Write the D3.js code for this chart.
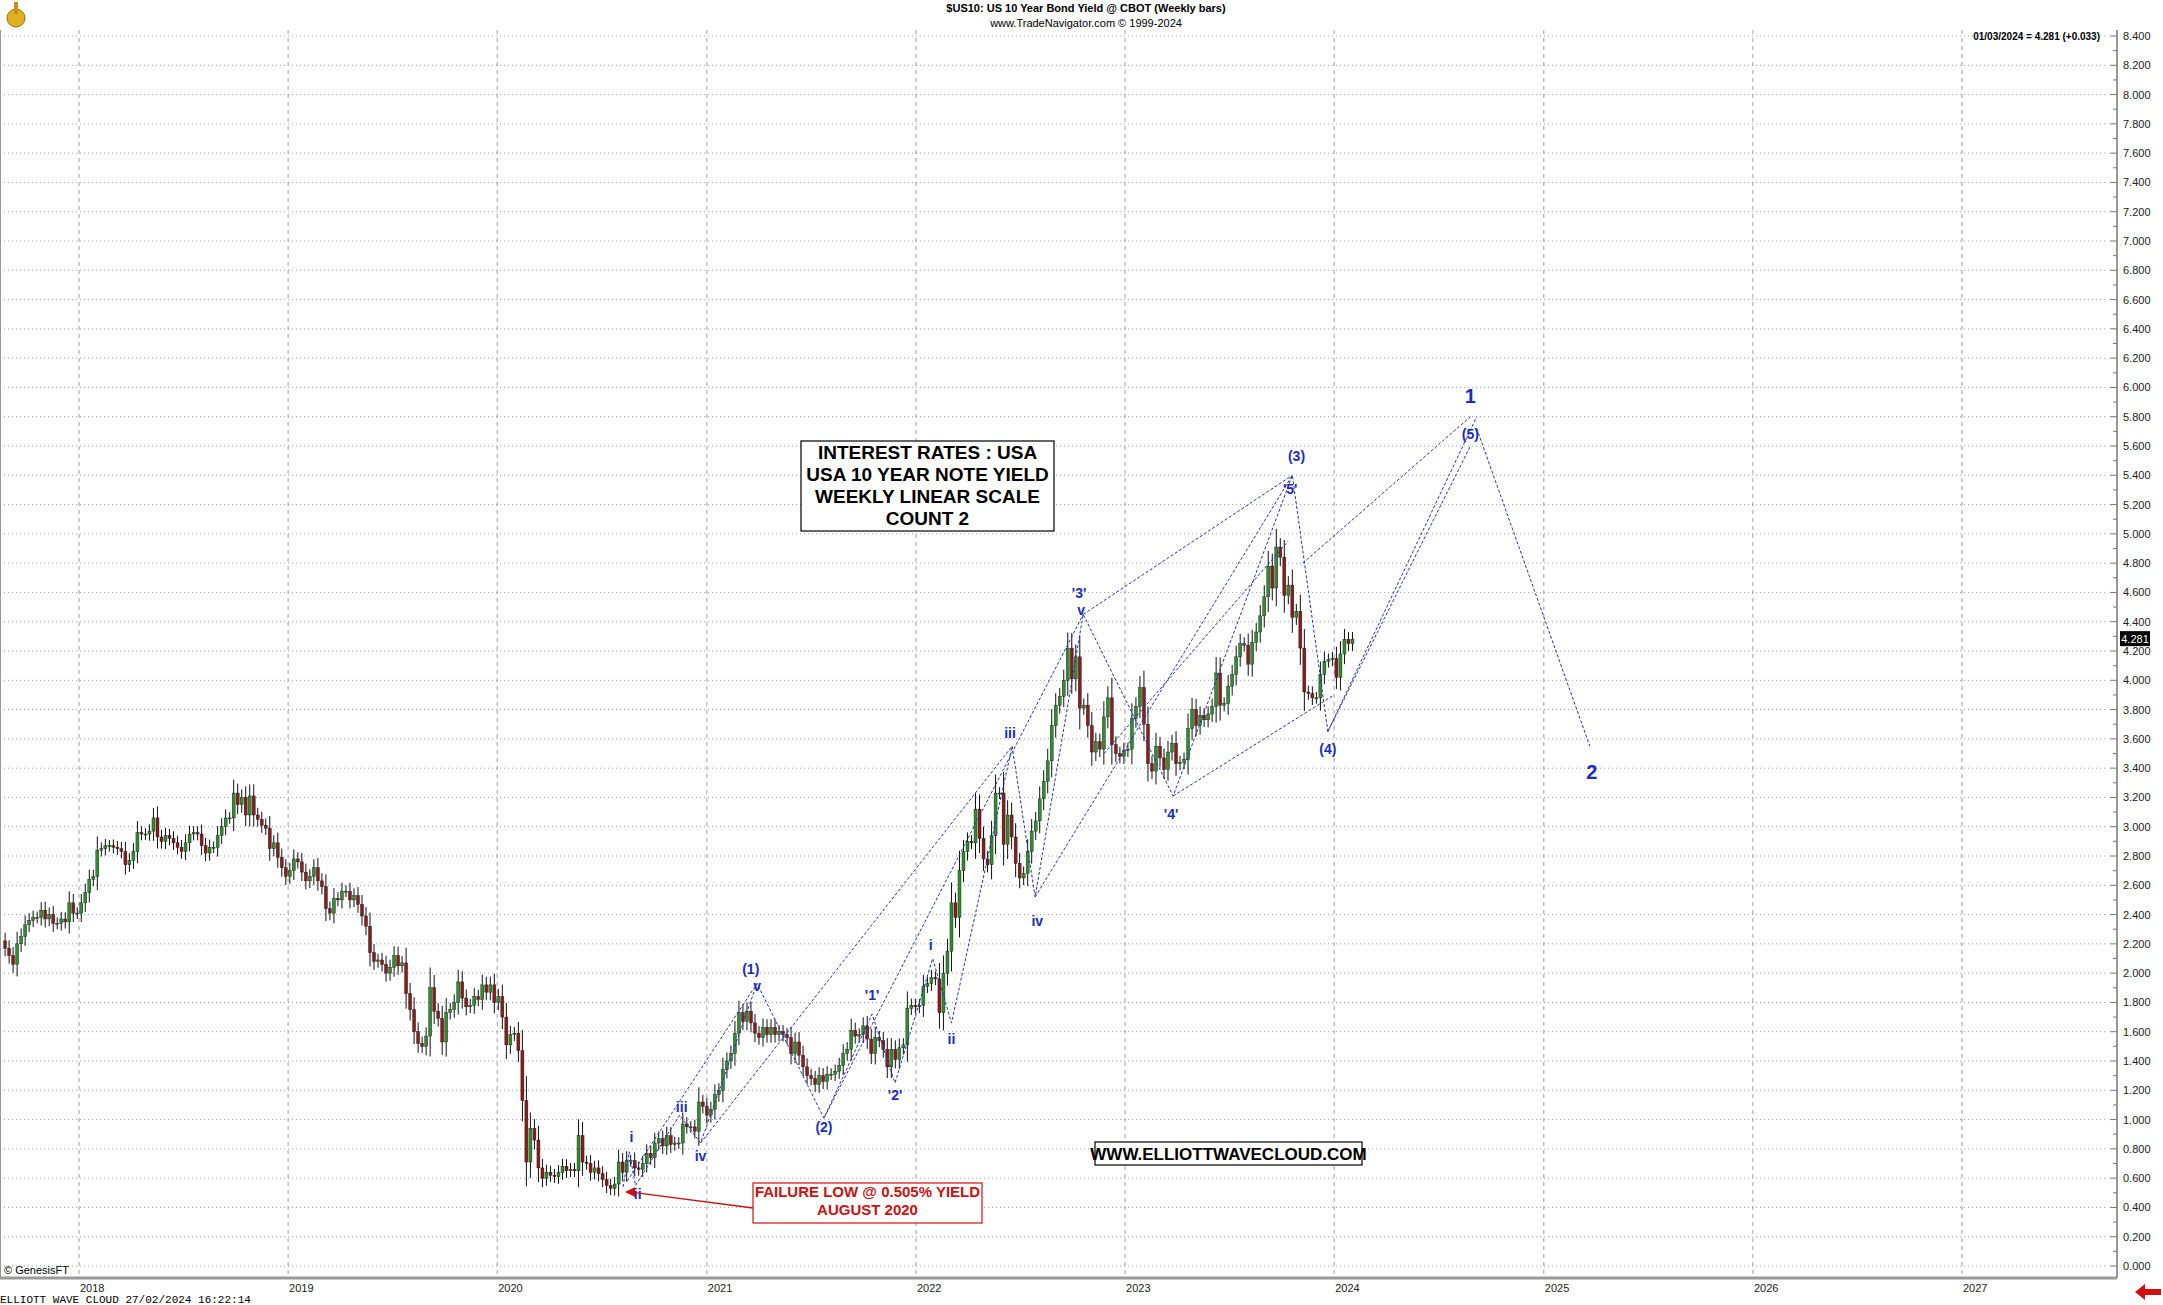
<!DOCTYPE html>
<html>
<head>
<meta charset="utf-8">
<script src="https://cdn.jsdelivr.net/npm/d3@7"></script>
<style>
  body { margin: 0; background: #fff; }
  svg { display: block; font-family: Arial, "Liberation Sans", sans-serif; }
</style>
</head>
<body>
<svg id="chart" width="2163" height="1305"></svg>
<script>
// weekly closes, starting week of 2017-08-25
var startDate = new Date(2017, 7, 25);
var closes = [
  2.17, 2.12,
  2.06, 2.20, 2.25, 2.33, 2.36, 2.38, 2.38, 2.43, 2.37, 2.40, 2.34, 2.34, 2.37, 2.35, 2.48, 2.41, 2.41,
  2.48, 2.55, 2.64, 2.66, 2.84, 2.85, 2.87, 2.87, 2.86, 2.85, 2.83, 2.74, 2.77, 2.83, 2.96, 2.95,
  2.95, 2.97, 3.06, 2.93, 2.90, 2.94, 2.92, 2.89, 2.86, 2.83, 2.89, 2.95, 2.96, 2.95, 2.87, 2.82, 2.86, 2.86,
  2.94, 3.00, 3.06, 3.06, 3.23, 3.15, 3.20, 3.08, 3.21, 3.08, 3.05, 3.01, 2.99, 2.85, 2.89, 2.79, 2.72,
  2.66, 2.70, 2.78, 2.76, 2.69, 2.63, 2.66, 2.72, 2.63, 2.59, 2.44, 2.41, 2.51, 2.50, 2.56, 2.56, 2.50,
  2.53, 2.47, 2.39, 2.32, 2.14, 2.08, 2.09, 2.06, 2.00, 2.04, 2.12, 2.05, 2.07, 1.86, 1.75, 1.60, 1.52, 1.50,
  1.57, 1.90, 1.74, 1.69, 1.53, 1.73, 1.75, 1.80, 1.94, 1.83, 1.77, 1.78, 1.84, 1.82, 1.92, 1.87, 1.92,
  1.80, 1.84, 1.70, 1.51, 1.58, 1.59, 1.47, 1.13, 0.71, 0.94, 0.86, 0.67, 0.60, 0.64, 0.62, 0.61, 0.64,
  0.68, 0.65, 0.66, 0.65, 0.89, 0.71, 0.70, 0.64, 0.67, 0.63, 0.59, 0.55, 0.53, 0.56, 0.71, 0.64, 0.72,
  0.72, 0.67, 0.66, 0.70, 0.77, 0.74, 0.84, 0.87, 0.82, 0.89, 0.83, 0.84, 0.84, 0.97, 0.95, 0.95, 0.92,
  1.12, 1.09, 1.03, 1.07, 1.17, 1.20, 1.34, 1.40, 1.45, 1.59, 1.73, 1.67, 1.74, 1.66, 1.59, 1.56, 1.63, 1.58,
  1.63, 1.58, 1.60, 1.58, 1.56, 1.45, 1.53, 1.44, 1.36, 1.30, 1.28, 1.24, 1.30, 1.26, 1.31, 1.31, 1.33,
  1.37, 1.45, 1.48, 1.61, 1.57, 1.58, 1.64, 1.55, 1.45, 1.56, 1.54, 1.48, 1.36, 1.48, 1.41, 1.49, 1.51,
  1.76, 1.78, 1.77, 1.78, 1.91, 1.93, 1.97, 1.96, 1.73, 2.00, 2.15, 2.48, 2.38, 2.70, 2.83, 2.90, 2.89,
  3.12, 2.92, 2.78, 2.74, 2.94, 3.23, 3.23, 2.88, 3.08, 2.93, 2.75, 2.65, 2.68, 2.83, 2.97, 3.04, 3.19,
  3.31, 3.45, 3.69, 3.83, 3.89, 4.00, 4.22, 4.01, 4.16, 3.81, 3.83, 3.69, 3.51, 3.58, 3.53, 3.75, 3.88,
  3.56, 3.50, 3.48, 3.52, 3.53, 3.74, 3.82, 3.95, 3.70, 3.43, 3.38, 3.55, 3.47, 3.39, 3.51, 3.57, 3.43,
  3.44, 3.46, 3.67, 3.80, 3.69, 3.76, 3.73, 3.77, 3.82, 4.05, 3.83, 3.84, 3.96, 4.04, 4.16, 4.25, 4.24,
  4.11, 4.26, 4.33, 4.44, 4.57, 4.78, 4.63, 4.91, 4.84, 4.58, 4.65, 4.43, 4.47, 4.22, 3.92, 3.91, 3.88, 3.88,
  4.04, 4.13, 4.14, 4.15, 4.02, 4.18, 4.28, 4.25, 4.281
];
var yearTicks = [2018, 2019, 2020, 2021, 2022, 2023, 2024, 2025, 2026, 2027];
var yTicks = d3.range(0, 43).map(function (i) { return i * 0.2; });

// wave labels: [text, decimal year, value, big]
var waveLabels = [
  ["i", 2020.64, 0.87, 0], ["ii", 2020.67, 0.48, 0], ["iii", 2020.88, 1.08, 0], ["iv", 2020.97, 0.74, 0],
  ["(1)", 2021.21, 2.02, 0], ["v", 2021.24, 1.90, 0], ["(2)", 2021.56, 0.94, 0],
  ["'1'", 2021.79, 1.84, 0], ["'2'", 2021.90, 1.16, 0], ["i", 2022.07, 2.18, 0], ["ii", 2022.17, 1.54, 0],
  ["iii", 2022.45, 3.63, 0], ["iv", 2022.58, 2.35, 0], ["'3'", 2022.78, 4.59, 0], ["v", 2022.79, 4.47, 0],
  ["'4'", 2023.22, 3.08, 0], ["(3)", 2023.82, 5.52, 0], ["'5'", 2023.79, 5.30, 0], ["(4)", 2023.97, 3.52, 0],
  ["(5)", 2024.65, 5.67, 0], ["1", 2024.65, 5.93, 1], ["2", 2025.23, 3.36, 1]
];
// dashed wave paths as [decimal year, value] points
var wavePaths = [
  [[2020.60, 0.54], [2020.63, 0.78], [2020.66, 0.55], [2020.87, 1.03], [2020.97, 0.84], [2021.24, 1.93],
   [2021.56, 1.01], [2021.79, 1.72], [2021.90, 1.25], [2022.08, 2.10], [2022.17, 1.66], [2022.46, 3.55],
   [2022.57, 2.52], [2022.80, 4.45], [2023.23, 3.21], [2023.80, 5.40], [2023.97, 3.65], [2024.68, 5.80]],
  [[2020.62, 0.58], [2021.24, 1.93]],
  [[2020.97, 0.84], [2022.46, 3.55]],
  [[2021.56, 1.01], [2022.80, 4.45]],
  [[2022.57, 2.52], [2023.80, 5.40]],
  [[2022.80, 4.45], [2023.80, 5.40]],
  [[2022.90, 3.50], [2023.78, 4.95]],
  [[2023.23, 3.21], [2024.00, 3.90]],
  [[2023.85, 4.80], [2024.65, 5.80]],
  [[2023.97, 3.65], [2024.65, 5.60]],
  [[2024.68, 5.72], [2025.22, 3.55]]
];

var svg = d3.select("#chart");
var plotRight = 2117, plotBottom = 1278;

var x = d3.scaleTime()
  .domain([new Date(2018, 0, 1), new Date(2027, 0, 1)])
  .range([79, 1962]);
var y = d3.scaleLinear().domain([0, 8.4]).range([1266, 36]);

function yearToDate(yr) {
  var y0 = Math.floor(yr);
  var a = new Date(y0, 0, 1), b = new Date(y0 + 1, 0, 1);
  return new Date(a.getTime() + (yr - y0) * (b - a));
}

// grid
svg.append("g").selectAll("line").data(yTicks).join("line")
  .attr("x1", 0).attr("x2", plotRight - 10)
  .attr("y1", function (d) { return y(d); }).attr("y2", function (d) { return y(d); })
  .attr("stroke", "#a0a0a0").attr("stroke-width", 1).attr("stroke-dasharray", "1,3");
svg.append("g").selectAll("line").data(yearTicks).join("line")
  .attr("x1", function (d) { return x(new Date(d, 0, 1)); })
  .attr("x2", function (d) { return x(new Date(d, 0, 1)); })
  .attr("y1", 30).attr("y2", plotBottom)
  .attr("stroke", "#a0a0a0").attr("stroke-width", 1).attr("stroke-dasharray", "4,4");

// frame
svg.append("line").attr("x1", 0.5).attr("x2", 0.5).attr("y1", 30).attr("y2", plotBottom).attr("stroke", "#999");
svg.append("line").attr("x1", 0).attr("x2", plotRight).attr("y1", plotBottom).attr("y2", plotBottom)
  .attr("stroke", "#999").attr("stroke-width", 3);
svg.append("line").attr("x1", plotRight).attr("x2", plotRight).attr("y1", 30).attr("y2", plotBottom)
  .attr("stroke", "#999").attr("stroke-width", 2);

// y axis ticks + labels
var minor = d3.range(0, 85).map(function (i) { return i * 0.1; });
svg.append("g").selectAll("line").data(minor).join("line")
  .attr("x1", function (d, i) { return i % 2 ? plotRight - 4 : plotRight - 7; }).attr("x2", plotRight)
  .attr("y1", function (d) { return y(d); }).attr("y2", function (d) { return y(d); })
  .attr("stroke", "#777");
svg.append("g").selectAll("text").data(yTicks).join("text")
  .attr("x", 2123).attr("y", function (d) { return y(d) + 4; })
  .attr("font-size", 11).attr("fill", "#222")
  .text(function (d) { return d.toFixed(3); });

// x labels
svg.append("g").selectAll("text").data(yearTicks).join("text")
  .attr("x", function (d) { return x(new Date(d, 0, 1)) + 1; }).attr("y", 1292)
  .attr("font-size", 11).attr("fill", "#222")
  .text(function (d) { return d; });

// candles
var bars = closes.map(function (c, i) {
  var o = i === 0 ? c + 0.05 : closes[i - 1];
  return { date: d3.timeWeek.offset(startDate, i), open: o, close: c };
});
var cg = svg.append("g");
bars.forEach(function (b) {
  var cx = x(b.date);
  var hi = Math.max(b.open, b.close), lo = Math.min(b.open, b.close);
  var ext = 0.04 + (hi - lo) * 0.3;
  cg.append("line").attr("x1", cx).attr("x2", cx)
    .attr("y1", y(hi + ext)).attr("y2", y(lo - ext))
    .attr("stroke", "#111").attr("stroke-width", 1);
  cg.append("rect").attr("x", cx - 1.5).attr("width", 3)
    .attr("y", y(hi)).attr("height", Math.max(1, y(lo) - y(hi)))
    .attr("fill", b.close >= b.open ? "#2f8f2f" : "#8b1c1c")
    .attr("stroke", "#111").attr("stroke-width", 0.4);
});

// wave lines
var line = d3.line()
  .x(function (d) { return x(yearToDate(d[0])); })
  .y(function (d) { return y(d[1]); });
svg.append("g").selectAll("path").data(wavePaths).join("path")
  .attr("d", line).attr("fill", "none")
  .attr("stroke", "#2030c0").attr("stroke-width", 1).attr("stroke-dasharray", "3,2");

// wave labels
svg.append("g").selectAll("text").data(waveLabels).join("text")
  .attr("x", function (d) { return x(yearToDate(d[1])); })
  .attr("y", function (d) { return y(d[2]); })
  .attr("text-anchor", "middle").attr("dominant-baseline", "middle")
  .attr("font-size", function (d) { return d[3] ? 20 : 14; })
  .attr("font-weight", "bold").attr("fill", "#1a2bc8")
  .text(function (d) { return d[0]; });

// title
svg.append("text").attr("x", 1086).attr("y", 12).attr("text-anchor", "middle")
  .attr("font-size", 11).attr("font-weight", "bold").text("$US10:  US 10 Year Bond Yield @ CBOT  (Weekly bars)");
svg.append("text").attr("x", 1086).attr("y", 27).attr("text-anchor", "middle")
  .attr("font-size", 11).text("www.TradeNavigator.com © 1999-2024");
svg.append("text").attr("x", 2100).attr("y", 40).attr("text-anchor", "end")
  .attr("font-size", 10).attr("font-weight", "bold").text("01/03/2024 = 4.281 (+0.033)");

// last price box
var last = closes[closes.length - 1];
svg.append("rect").attr("x", 2120).attr("y", y(last) - 8).attr("width", 30).attr("height", 15).attr("fill", "#000");
svg.append("text").attr("x", 2135).attr("y", y(last) + 4).attr("text-anchor", "middle")
  .attr("font-size", 11).attr("fill", "#fff").text(last.toFixed(3));

// logo
var logo = svg.append("g").attr("transform", "translate(16,18)");
logo.append("circle").attr("r", 9).attr("fill", "#e0b020").attr("stroke", "#a07010");
logo.append("rect").attr("x", -2).attr("y", -16).attr("width", 4).attr("height", 12).attr("fill", "#c89010");

// text boxes
function box(x0, y0, w, h, lines, size, color, lh) {
  svg.append("rect").attr("x", x0).attr("y", y0).attr("width", w).attr("height", h)
    .attr("fill", "#fff").attr("stroke", color).attr("stroke-width", 1.2);
  lines.forEach(function (t, i) {
    svg.append("text").attr("x", x0 + w / 2).attr("y", y0 + lh * (i + 1) - 4)
      .attr("text-anchor", "middle").attr("font-size", size).attr("font-weight", "bold")
      .attr("fill", color).text(t);
  });
}
box(801, 441, 253, 90, ["INTEREST RATES : USA", "USA 10 YEAR NOTE YIELD", "WEEKLY LINEAR SCALE", "COUNT 2"], 19, "#000", 22);
box(1095, 1142, 267, 23, ["WWW.ELLIOTTWAVECLOUD.COM"], 17, "#000", 22);

// failure low arrow
var lowPt = [x(yearToDate(2020.61)), y(0.505)];
svg.append("line").attr("x1", 753).attr("y1", 1208).attr("x2", lowPt[0] + 6).attr("y2", lowPt[1])
  .attr("stroke", "#d01010").attr("stroke-width", 1.3);
svg.append("path").attr("d", "M" + lowPt[0] + "," + lowPt[1] + " l10,-5 l0,10 z").attr("fill", "#d01010");
box(753, 1183, 229, 40, ["FAILURE LOW @ 0.505% YIELD", "AUGUST 2020"], 15, "#d01010", 18);

// footer
svg.append("text").attr("x", 4).attr("y", 1274).attr("font-size", 11).text("© GenesisFT");
svg.append("text").attr("x", 0).attr("y", 1303).attr("font-size", 11)
  .attr("font-family", "'Liberation Mono', 'DejaVu Sans Mono', monospace")
  .text("ELLIOTT WAVE CLOUD   27/02/2024 16:22:14");
svg.append("path").attr("d", "M2135,1292 l10,-8 v5 h16 v6 h-16 v5 z").attr("fill", "#d01010");
</script>
</body>
</html>
